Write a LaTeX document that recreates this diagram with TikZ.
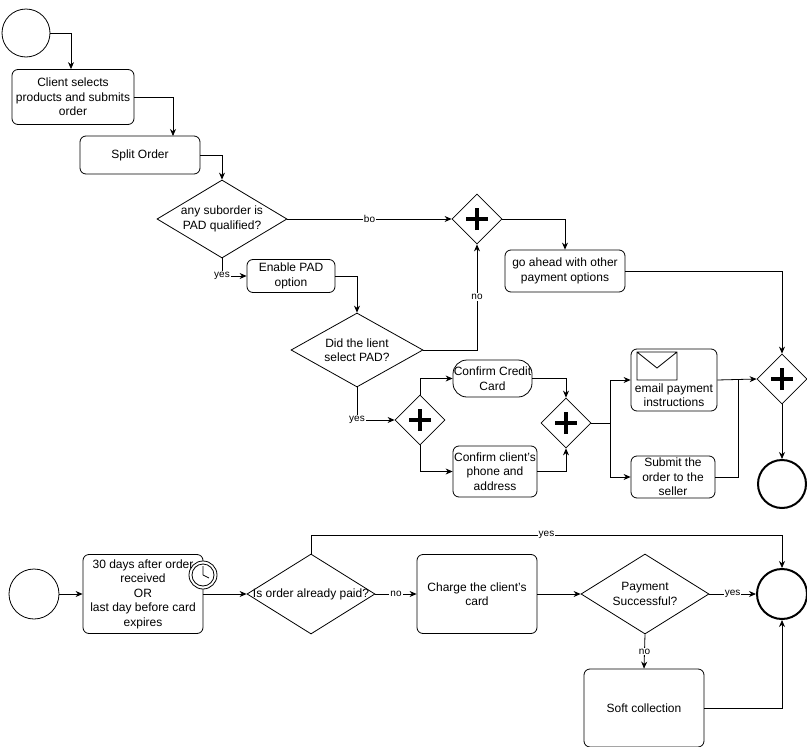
\documentclass[tikz,border=0pt]{standalone}
\usepackage{fontspec}
\setmainfont{Liberation Sans}
\usetikzlibrary{shapes.geometric,arrows.meta}
\begin{document}
\begin{tikzpicture}[x=1pt,y=-1pt,
  every node/.style={font=\fontsize{12}{14.5}\selectfont,align=center},
  task/.style={draw,rounded corners=6pt,inner sep=0pt},
  dia/.style={draw,diamond,inner sep=0pt},
  gw/.style={draw,diamond,minimum width=50,minimum height=50,inner sep=0pt},
  ev/.style={draw,circle,minimum size=48,inner sep=0pt},
  endev/.style={draw,circle,minimum size=48,inner sep=0pt,line width=2pt},
  lbl/.style={fill=white,inner sep=1pt,font=\fontsize{10}{11}\selectfont},
  arr/.style={-{Stealth[length=7pt,width=6pt]}},
  line width=0.8pt]
\useasboundingbox (0,0) rectangle (807,747);
\newcommand{\plusmark}[1]{\draw[line width=4pt] ([yshift=-11]#1.center)--([yshift=11]#1.center) ([xshift=-11]#1.center)--([xshift=11]#1.center);}
% top
\node[ev] (s1) at (26,33) {};
\node[task,minimum width=122,minimum height=55] (t1) at (73,97) {Client selects\\products and submits\\order};
\node[task,minimum width=120,minimum height=38] (t2) at (140,155) {Split Order};
\node[dia,minimum width=130,minimum height=78] (d1) at (222,219) {};
\node at (222,219) {any suborder is\\PAD qualified?};
\node[gw] (g1) at (477,219) {}; \plusmark{g1}
\node[task,minimum width=120,minimum height=42] (t3) at (565,271) {go ahead with other\\payment options};
\node[task,minimum width=88,minimum height=33] (t4) at (291,276) {Enable PAD\\option};
\node[dia,minimum width=132,minimum height=74] (d2) at (357,350) {};
\node at (357,350) {Did the lient\\select PAD?};
\node[gw] (g2) at (420,420) {}; \plusmark{g2}
\node[task,rounded corners=14pt,minimum width=79,minimum height=37] (t5) at (492.5,378.5) {Confirm Credit\\Card};
\node[task,minimum width=84,minimum height=51] (t6) at (495,471.5) {Confirm client's\\phone and\\address};
\node[gw] (g3) at (566,423) {}; \plusmark{g3}
\node[task,minimum width=86,minimum height=62] (t7) at (674,380) {};
\node at (674,395) {email payment\\instructions};
\draw[line width=0.8pt] (637,352) rectangle (677,380) (637,352)--(657,368)--(677,352);
\node[task,minimum width=84,minimum height=42] (t8) at (673,477) {Submit the\\order to the\\seller};
\node[gw] (g4) at (782,379) {}; \plusmark{g4}
\node[endev] (e1) at (782,484) {};
\draw[arr] (s1.east) -| (t1.north -| 71,0);
\draw[arr] (t1.east) -| (173,136);
\draw[arr] (t2.east) -| (d1.north);
\draw[arr] (d1.east) -- node[lbl]{bo} (g1.west);
\draw[arr] (d1.south) |- node[lbl,pos=0.5]{yes} (t4.west);
\draw[arr] (g1.east) -| (t3.north);
\draw[arr] (t4.east) -| (d2.north);
\draw[arr] (d2.east) -| node[lbl,pos=0.75]{no} (g1.south);
\draw[arr] (d2.south) |- node[lbl,pos=0.5]{yes} (g2.west);
\draw[arr] (g2.north) |- (t5.west);
\draw[arr] (g2.south) |- (t6.west);
\draw[arr] (t5.east) -| (g3.north);
\draw[arr] (t6.east) -| (g3.south);
\coordinate (b1) at (610,423);
\draw (g3.east) -- (b1);
\draw[arr] (b1) |- (t7.west);
\draw[arr] (b1) |- (t8.west);
\draw[arr] (t7.east) -- (g4.west);
\draw (t8.east) -| (738,379);
\draw[arr] (t3.east) -| (g4.north);
\draw[arr] (g4.south) -- (e1.north);
% bottom
\node[ev,minimum size=50] (s2) at (34,594) {};
\node[task,minimum width=120,minimum height=79] (b1t) at (143,594) {30 days after order\\received\\OR\\last day before card\\expires};
\draw[fill=white] (203,575) circle (14); \draw (203,575) circle (11);
\draw (203,575)--(203,566) (203,575)--(209,578);
\node[dia,minimum width=128,minimum height=80] (d3) at (311,594) {};
\node at (311,594) {Is order already paid?};
\node[task,minimum width=120,minimum height=79] (c1) at (477,594) {Charge the client's\\card};
\node[dia,minimum width=128,minimum height=80] (d4) at (645,594) {};
\node at (645,594) {Payment\\Successful?};
\node[endev,minimum size=50] (e2) at (782,594) {};
\node[task,minimum width=120,minimum height=78] (sc) at (644,708) {Soft collection};
\draw[arr] (s2.east) -- (b1t.west);
\draw[arr] (b1t.east) -- (d3.west);
\draw[arr] (d3.east) -- node[lbl]{no} (c1.west);
\draw[arr] (c1.east) -- (d4.west);
\draw[arr] (d4.east) -- node[lbl]{yes} (e2.west);
\draw[arr] (d4.south) -- node[lbl]{no} (sc.north);
\draw[arr] (sc.east) -| (e2.south);
\draw[arr] (d3.north) -- (311,535) -- node[lbl]{yes} (782,535) -- (e2.north);
\end{tikzpicture}
\end{document}
